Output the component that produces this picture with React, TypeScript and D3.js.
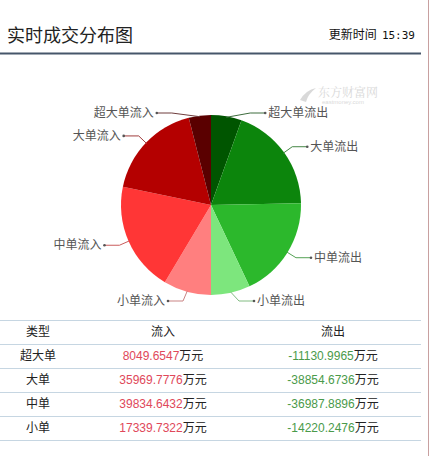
import React from "react";
import * as d3 from "d3";

const categories = ["超大单", "大单", "中单", "小单"];
const inflow = [8049.6547, 35969.7776, 39834.6432, 17339.7322];
const outflow = [-11130.9965, -38854.6736, -36987.8896, -14220.2476];

// pie slices, clockwise from 12 o'clock
const sliceNames = ["超大单流出", "大单流出", "中单流出", "小单流出", "小单流入", "中单流入", "大单流入", "超大单流入"];
const sliceValues = [11130.9965, 38854.6736, 36987.8896, 14220.2476, 17339.7322, 39834.6432, 35969.7776, 8049.6547];
const sliceColors = ["#005500", "#0c850c", "#2cb82c", "#7de67d", "#ff7f7f", "#ff3636", "#b40000", "#5a0000"];

const headers = ["类型", "流入", "流出"];
const title = "实时成交分布图";
const updateLabel = "更新时间";
const updateTime = "15:39";

const W = 431;
const H = 456;

export default function App() {
  const cx = 211;
  const cy = 205;
  const r = 90;
  const pie = d3.pie<number>().sort(null).value((d) => d)(sliceValues);
  const arc = d3.arc<d3.PieArcDatum<number>>().innerRadius(0).outerRadius(r);
  const R = r + 10;

  const labels = pie.map((p, i) => {
    const mid = (p.startAngle + p.endAngle) / 2;
    const sx = Math.sin(mid);
    const sy = -Math.cos(mid);
    const right = sx >= 0;
    let ly = cy + sy * R;
    ly = Math.max(cy - r - 2, Math.min(cy + r + 6, ly));
    const dy = ly - cy;
    const ex = cx + (right ? 1 : -1) * Math.sqrt(Math.max(0, R * R - dy * dy));
    const tx = ex + (right ? 15 : -15);
    return {
      name: sliceNames[i],
      color: sliceColors[i],
      p0: [cx + sx * (r - 1), cy + sy * (r - 1)],
      p1: [ex, ly],
      p2: [tx, ly],
      right,
    };
  });

  const colX = [38, 163, 333];
  const rowLines = [320, 344, 368, 392, 416, 440];
  const rowCenters = d3.range(rowLines.length - 1).map((i) => (rowLines[i] + rowLines[i + 1]) / 2);
  const fmt = (v: number) => v.toFixed(4);
  const cjk = "'Noto Sans CJK SC', sans-serif";
  const num = "'Liberation Sans', Arial, sans-serif";

  return (
    <svg width={W} height={H} style={{ position: "absolute", left: 0, top: 0, background: "#fff" }}>
      <rect x={0} y={0} width={W} height={H} fill="#fff" />
      {/* header */}
      <text x={7} y={42} fontFamily={cjk} fontSize={18} fill="#222">{title}</text>
      <text x={415} y={39} textAnchor="end" fontFamily={cjk} fontSize={12} fill="#111">
        {updateLabel}
        <tspan fontFamily="'DejaVu Sans Mono', monospace" fontSize={11} dx={5}>{updateTime}</tspan>
      </text>
      <line x1={0} x2={421} y1={53.5} y2={53.5} stroke="#46566a" strokeWidth={2} />
      <line x1={428.5} x2={428.5} y1={0} y2={H} stroke="#c8a0a0" strokeWidth={1} />

      {/* watermark */}
      <g opacity={0.55}>
        <path d="M300,100 q6,-10 16,-12 q-8,6 -10,14 z" fill="#bbb" />
        <text x={318} y={97} fontFamily="'Noto Serif CJK SC', serif" fontSize={12} fill="#bbb">东方财富网</text>
        <text x={322} y={104} fontFamily={num} fontSize={6} fill="#bbb">eastmoney.com</text>
      </g>

      {/* pie */}
      <g transform={`translate(${cx},${cy})`}>
        {pie.map((p, i) => (
          <path key={i} d={arc(p) || ""} fill={sliceColors[i]} stroke="none" />
        ))}
      </g>
      {labels.map((l, i) => (
        <g key={i}>
          <polyline
            points={[l.p0, l.p1, l.p2].map((p) => p.join(",")).join(" ")}
            fill="none"
            stroke={d3.interpolateRgb(l.color, "#888")(0.45)}
            strokeWidth={1}
          />
          <circle cx={l.p2[0]} cy={l.p2[1]} r={1.3} fill="#555" />
          <text
            x={l.p2[0] + (l.right ? 3 : -3)}
            y={l.p2[1]}
            dy="0.35em"
            textAnchor={l.right ? "start" : "end"}
            fontFamily={cjk}
            fontSize={12}
            fill="#555"
          >
            {l.name}
          </text>
        </g>
      ))}

      {/* table */}
      {rowLines.map((y, i) => (
        <line key={i} x1={0} x2={421} y1={y + 0.5} y2={y + 0.5} stroke="#c6d6e2" strokeWidth={1} />
      ))}
      {headers.map((h, i) => (
        <text key={i} x={colX[i]} y={rowCenters[0]} dy="0.35em" textAnchor="middle" fontFamily={cjk} fontSize={12} fill="#222">
          {h}
        </text>
      ))}
      {categories.map((c, i) => (
        <g key={i}>
          <text x={colX[0]} y={rowCenters[i + 1]} dy="0.35em" textAnchor="middle" fontFamily={cjk} fontSize={12} fill="#222">
            {c}
          </text>
          <text x={colX[1]} y={rowCenters[i + 1]} dy="0.35em" textAnchor="middle" fontSize={12}>
            <tspan fontFamily={num} fill="#e0485a">{fmt(inflow[i])}</tspan>
            <tspan fontFamily={cjk} fill="#222">万元</tspan>
          </text>
          <text x={colX[2]} y={rowCenters[i + 1]} dy="0.35em" textAnchor="middle" fontSize={12}>
            <tspan fontFamily={num} fill="#4a9a4a">{fmt(outflow[i])}</tspan>
            <tspan fontFamily={cjk} fill="#222">万元</tspan>
          </text>
        </g>
      ))}
    </svg>
  );
}
